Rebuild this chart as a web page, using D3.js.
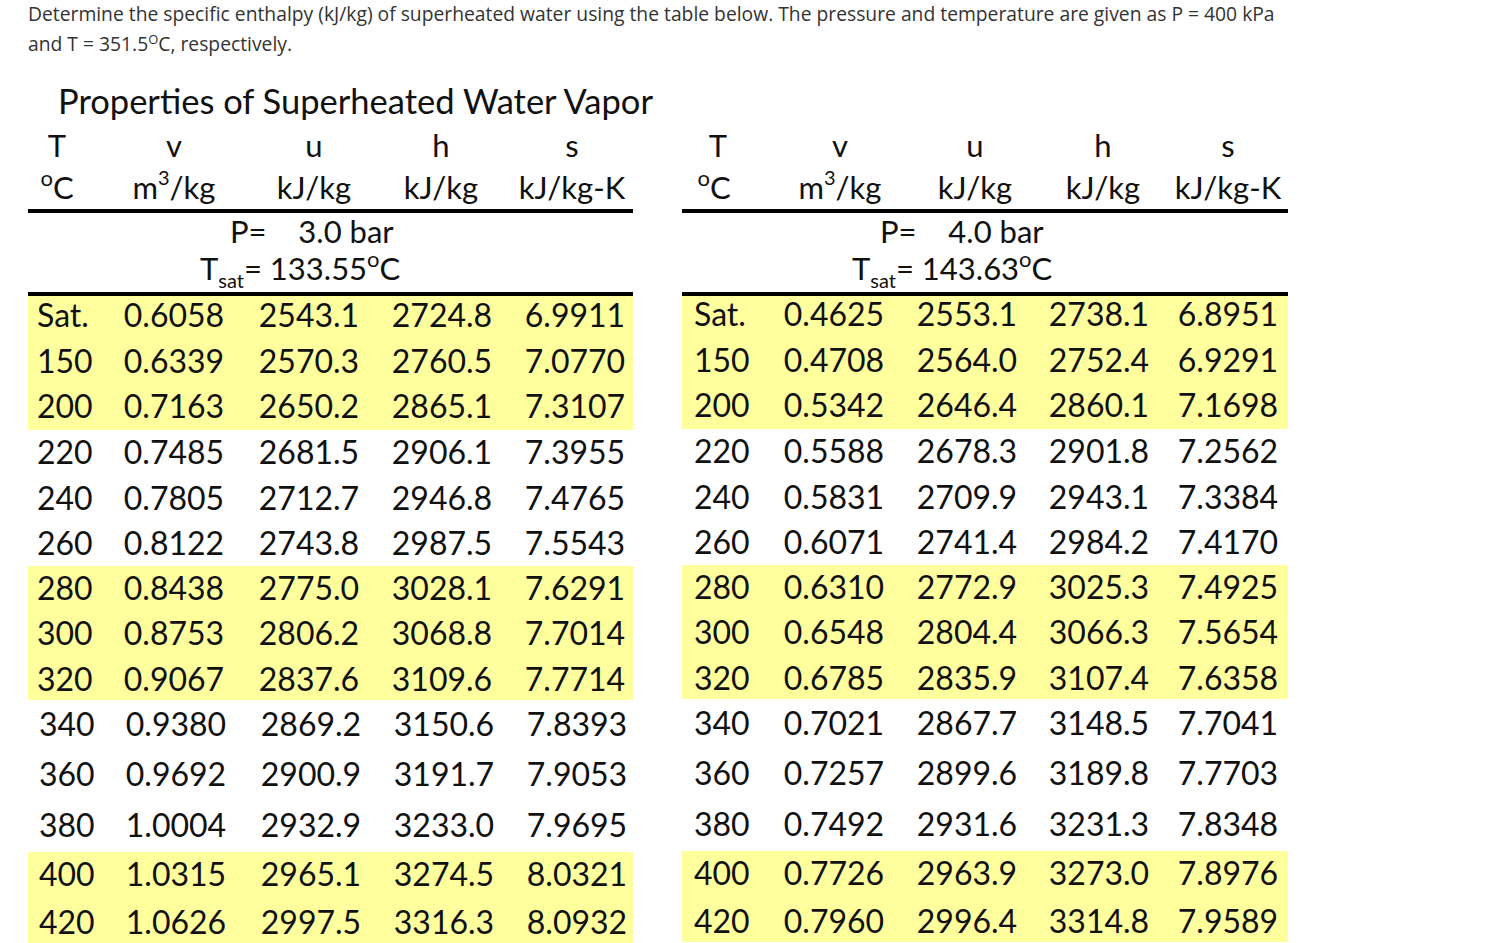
<!DOCTYPE html>
<html><head><meta charset="utf-8">
<script src="https://cdn.jsdelivr.net/npm/d3@7"></script>
<style>body{margin:0;background:#fff}svg{display:block}</style></head>
<body><svg id="c" width="1512" height="943"></svg>
<script>
const rowLabels = ["Sat.","150","200","220","240","260","280","300","320","340","360","380","400","420"];
const highlighted = ["Sat.","150","200","280","300","320","400","420"];
const v3 = ["0.6058","0.6339","0.7163","0.7485","0.7805","0.8122","0.8438","0.8753","0.9067","0.9380","0.9692","1.0004","1.0315","1.0626"];
const u3 = ["2543.1","2570.3","2650.2","2681.5","2712.7","2743.8","2775.0","2806.2","2837.6","2869.2","2900.9","2932.9","2965.1","2997.5"];
const h3 = ["2724.8","2760.5","2865.1","2906.1","2946.8","2987.5","3028.1","3068.8","3109.6","3150.6","3191.7","3233.0","3274.5","3316.3"];
const s3 = ["6.9911","7.0770","7.3107","7.3955","7.4765","7.5543","7.6291","7.7014","7.7714","7.8393","7.9053","7.9695","8.0321","8.0932"];
const v4 = ["0.4625","0.4708","0.5342","0.5588","0.5831","0.6071","0.6310","0.6548","0.6785","0.7021","0.7257","0.7492","0.7726","0.7960"];
const u4 = ["2553.1","2564.0","2646.4","2678.3","2709.9","2741.4","2772.9","2804.4","2835.9","2867.7","2899.6","2931.6","2963.9","2996.4"];
const h4 = ["2738.1","2752.4","2860.1","2901.8","2943.1","2984.2","3025.3","3066.3","3107.4","3148.5","3189.8","3231.3","3273.0","3314.8"];
const s4 = ["6.8951","6.9291","7.1698","7.2562","7.3384","7.4170","7.4925","7.5654","7.6358","7.7041","7.7703","7.8348","7.8976","7.9589"];
const colNames = ["T","v","u","h","s"];
const colUnits = ["°C","m³/kg","kJ/kg","kJ/kg","kJ/kg-K"];

const svg = d3.select("#c");
const F = "Lato, 'Open Sans', sans-serif";
svg.append("text").attr("x",28).attr("y",21).attr("font-family","'Open Sans',sans-serif").attr("font-size",19.3).attr("fill","#333")
  .text("Determine the specific enthalpy (kJ/kg) of superheated water using the table below. The pressure and temperature are given as P = 400 kPa");
const t2 = svg.append("text").attr("x",28).attr("y",51).attr("font-family","'Open Sans',sans-serif").attr("font-size",19.3).attr("fill","#333");
t2.append("tspan").text("and T = 351.5");
t2.append("tspan").attr("dy",-7).attr("font-size",13).text("O");
t2.append("tspan").attr("dy",7).text("C, respectively.");
svg.append("text").attr("x",58).attr("y",114).attr("font-family",F).attr("font-size",34.5).attr("fill","#111").text("Properties of Superheated Water Vapor");

const tables = [
  {x0:28,x1:633,cols:[37,174,309,442,575],P:"3.0 bar",Tsat:"133.55",v:v3,u:u3,h:h3,s:s3,dy:0,px:230,tx:200,hdx:[57,174,314,441,572]},
  {x0:682,x1:1288,cols:[694,834,967,1099,1228],P:"4.0 bar",Tsat:"143.63",v:v4,u:u4,h:h4,s:s4,dy:-1,px:880,tx:852,hdx:[718,840,975,1103,1228]}
];
const y = d3.scaleOrdinal().domain(rowLabels).range([316,362,407,453,499,544,589,634,680,725,775,826,875,923]);
const bandTop = d3.scaleOrdinal().domain(rowLabels).range([295,340,385,430,476,521,566,611,656,702,750,800,852,900]);
const bandBot = d3.scaleOrdinal().domain(rowLabels).range([340,385,430,476,521,566,611,656,700,750,800,852,900,943]);

tables.forEach(t=>{
  const g = svg.append("g");
  g.selectAll("rect").data(rowLabels.filter(r=>highlighted.includes(r))).join("rect")
    .attr("x",t.x0).attr("width",t.x1-t.x0)
    .attr("y",r=>bandTop(r)+t.dy).attr("height",r=>bandBot(r)-bandTop(r)).attr("fill","#ffff9e");
  colNames.forEach((c,i)=>{
    g.append("text").attr("x",t.hdx[i]).attr("y",157).attr("text-anchor","middle").attr("font-family",F).attr("font-size",31).attr("fill","#111").text(c);
  });
  const ux = [t.cols[0]+20, t.hdx[1], t.hdx[2], t.hdx[3], t.hdx[4]];
  colUnits.forEach((c,i)=>{
    const tx = g.append("text").attr("x",ux[i]).attr("y",199).attr("text-anchor","middle").attr("font-family",F).attr("font-size",31).attr("fill","#111");
    if(i===0){tx.append("tspan").attr("font-size",22).attr("dy",-13).text("o");tx.append("tspan").attr("dy",13).text("C");}
    else if(i===1){tx.append("tspan").text("m");tx.append("tspan").attr("font-size",20).attr("dy",-14).text("3");tx.append("tspan").attr("dy",14).text("/kg");}
    else tx.text(c);
  });
  g.append("line").attr("x1",t.x0).attr("x2",t.x1).attr("y1",211).attr("y2",211).attr("stroke","#000").attr("stroke-width",4);
  g.append("text").attr("x",t.px).attr("y",243).attr("font-family",F).attr("font-size",31).attr("fill","#111").attr("xml:space","preserve").text("P=    "+t.P);
  const ts = g.append("text").attr("x",t.tx).attr("y",280).attr("font-family",F).attr("font-size",31).attr("fill","#111");
  ts.append("tspan").text("T");ts.append("tspan").attr("font-size",20).attr("dy",8).text("sat");
  ts.append("tspan").attr("dy",-8).text("= "+t.Tsat);ts.append("tspan").attr("font-size",22).attr("dy",-13).text("o");ts.append("tspan").attr("dy",13).text("C");
  g.append("line").attr("x1",t.x0).attr("x2",t.x1).attr("y1",294).attr("y2",294).attr("stroke","#000").attr("stroke-width",4);
  const series=[rowLabels,t.v,t.u,t.h,t.s];
  series.forEach((arr,ci)=>{
    g.append("g").selectAll("text").data(arr).join("text")
      .attr("x",(d,i)=>t.cols[ci]+(i>=9&&t.x0<100?2:0))
      .attr("y",(d,i)=>y(rowLabels[i])+11+t.dy)
      .attr("text-anchor",ci===0?"start":"middle")
      .attr("font-family",F).attr("font-size",32).attr("fill","#111").text(d=>d);
  });
});
</script></body></html>
